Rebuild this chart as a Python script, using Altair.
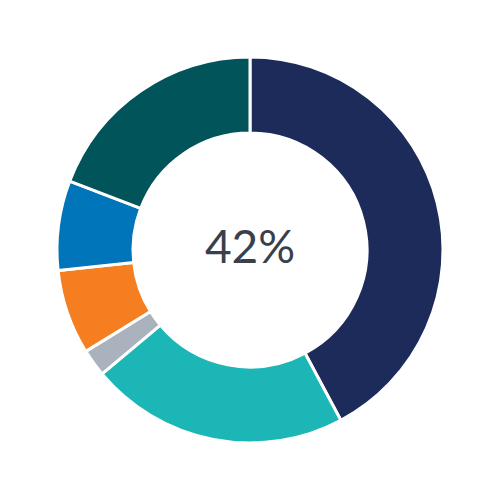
import altair as alt
import pandas as pd

categories = ["A", "B", "C", "D", "E", "F"]
values = [42.2, 21.7, 2.3, 7.1, 7.5, 19.2]
colors = ["#1c2b5a", "#1db6b7", "#a9b2bd", "#f47e20", "#0075b9", "#01555a"]
center_label = ["42%"]

df = pd.DataFrame({"cat": categories, "value": values, "idx": list(range(len(categories)))})

arcs = alt.Chart(df).mark_arc(innerRadius=117, outerRadius=193, stroke="white", strokeWidth=3).encode(
    theta=alt.Theta("value:Q", stack=True),
    order=alt.Order("idx:Q", sort="ascending"),
    color=alt.Color("cat:N", scale=alt.Scale(domain=categories, range=colors), legend=None),
)

text = alt.Chart(pd.DataFrame({"t": center_label})).mark_text(
    font="Lato", fontSize=46, fontWeight=400, color="#3a404b", baseline="middle", align="center"
).encode(text="t:N", x=alt.value(242), y=alt.value(241))

chart = alt.layer(arcs, text).properties(
    width=484, height=484, padding=0, autosize=alt.AutoSizeParams(type="none")
).configure_view(stroke=None)

chart.save("out.html", embed_options={"renderer": "svg", "actions": False})
